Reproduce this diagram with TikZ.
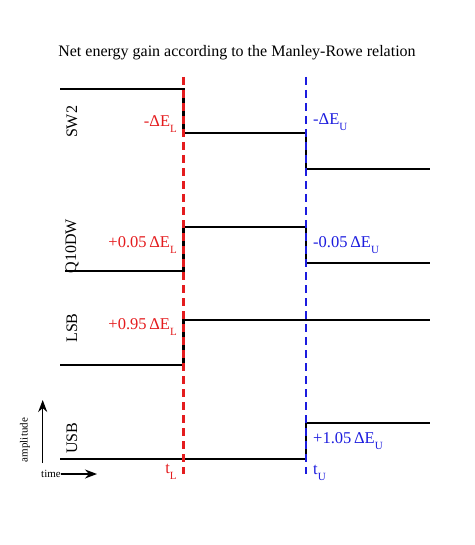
\documentclass[tikz,border=0pt]{standalone}
\usepackage{fontspec}
\setmainfont{Liberation Serif}
\usetikzlibrary{arrows.meta}
\definecolor{lred}{RGB}{228,28,30}
\definecolor{lblue}{RGB}{28,28,222}
\newcommand{\sbL}[1]{\raisebox{-6pt}{\fontsize{11}{11}\selectfont #1}}
\tikzset{
  trace/.style={line width=2.8pt, black},
  tline/.style={line width=2.8pt, dash pattern=on 8pt off 5pt},
  sig/.style={rotate=90, font=\fontsize{16}{16}\selectfont, inner sep=0pt},
  lab/.style={font=\fontsize{16.5}{16}\selectfont, inner sep=0pt},
  axis/.style={line width=1.3pt, -{Stealth[length=12pt,width=9pt]}},
  small/.style={font=\fontsize{11}{11}\selectfont, inner sep=0pt}
}
\begin{document}
\begin{tikzpicture}[x=1pt,y=-1pt]
\useasboundingbox (0,0) rectangle (474,545);
\node[font=\fontsize{16}{16}\selectfont, anchor=base] (title) at (237,56.5) {Net energy gain according to the Manley-Rowe relation};
% SW2
\coordinate (s1) at (60,89); \coordinate (s2) at (183.5,89); \coordinate (s3) at (183.5,133);
\coordinate (s4) at (306,133); \coordinate (s5) at (306,169); \coordinate (s6) at (430,169);
\draw[trace] (s1) -- (s2) -- (s3) -- (s4) -- (s5) -- (s6);
% Q10DW
\coordinate (q1) at (65,271); \coordinate (q2) at (183.5,271); \coordinate (q3) at (183.5,227);
\coordinate (q4) at (306,227); \coordinate (q5) at (306,263); \coordinate (q6) at (430,263);
\draw[trace] (q1) -- (q2) -- (q3) -- (q4) -- (q5) -- (q6);
% LSB
\coordinate (l1) at (60,365); \coordinate (l2) at (183.5,365); \coordinate (l3) at (183.5,320);
\coordinate (l4) at (430,320);
\draw[trace] (l1) -- (l2) -- (l3) -- (l4);
% USB
\coordinate (u1) at (60,459); \coordinate (u2) at (306,459); \coordinate (u3) at (306,423);
\coordinate (u4) at (430,423);
\draw[trace] (u1) -- (u2) -- (u3) -- (u4);
% time markers
\coordinate (rt) at (183.5,77); \coordinate (rb) at (183.5,474);
\coordinate (bt) at (306,77); \coordinate (bb) at (306,474);
\draw[tline, lred] (rt) -- (rb);
\draw[tline, lblue] (bt) -- (bb);
% signal names
\node[sig] (nsw2) at (72,122) {SW2};
\node[sig] (nq) at (72,246) {Q10DW};
\node[sig] (nlsb) at (72,328) {LSB};
\node[sig] (nusb) at (72,438) {USB};
% energy labels
\node[lab, lred, anchor=base east] (eL1) at (177,127) {-ΔE\sbL{L}};
\node[lab, lred, anchor=base east] (eL2) at (177,247) {+0.05\,ΔE\sbL{L}};
\node[lab, lred, anchor=base east] (eL3) at (177,329) {+0.95\,ΔE\sbL{L}};
\node[lab, lblue, anchor=base west] (eU1) at (313,125) {-ΔE\sbL{U}};
\node[lab, lblue, anchor=base west] (eU2) at (313,247) {-0.05\,ΔE\sbL{U}};
\node[lab, lblue, anchor=base west] (eU3) at (313,443) {+1.05\,ΔE\sbL{U}};
\node[lab, lred, anchor=base] (tL) at (171,473) {t\sbL{L}};
\node[lab, lblue, anchor=base west] (tU) at (313,474) {t\sbL{U}};
% axes
\coordinate (a0) at (42.7,463); \coordinate (a1) at (42.7,400);
\draw[axis] (a0) -- (a1);
\node[small, rotate=90] (amp) at (25,440) {amplitude};
\node[small] (time) at (51,474) {time};
\coordinate (t1) at (97,474);
\draw[axis] (time.east) -- (t1);
\end{tikzpicture}
\end{document}
